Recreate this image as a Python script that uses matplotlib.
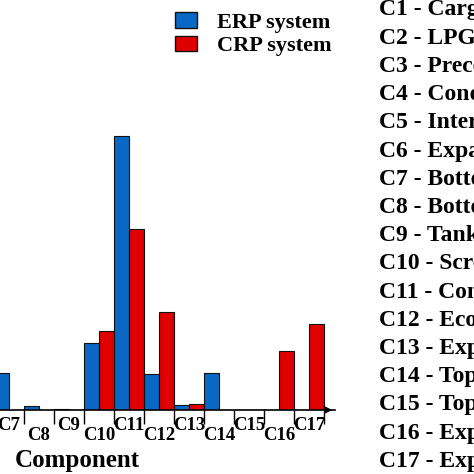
import matplotlib
matplotlib.use("Agg")
import matplotlib.pyplot as plt
import matplotlib.transforms as mtrans
from matplotlib.patches import Patch
import numpy as np

categories = ["C7", "C8", "C9", "C10", "C11", "C12", "C13", "C14", "C15", "C16", "C17"]
erp = [37, 4, 1, 67, 274, 36, 5, 37, 0, 0, 0]
crp = [0, 0, 0, 79, 181, 98, 6, 0, 0, 59, 86]
descriptions = ["C1 - Cargo tank", "C2 - LPG pump", "C3 - Precooler", "C4 - Condenser",
                "C5 - Intermediate cooler", "C6 - Expansion valve", "C7 - Bottom heat exchanger",
                "C8 - Bottom separator", "C9 - Tank", "C10 - Screw compressor",
                "C11 - Condenser", "C12 - Economizer", "C13 - Expansion valve",
                "C14 - Top heat exchanger", "C15 - Top separator", "C16 - Expansion valve",
                "C17 - Expansion valve"]

plt.rcParams['font.family'] = ['Liberation Serif', 'DejaVu Serif']
plt.rcParams['font.weight'] = 'bold'
BLUE = '#0868C4'
RED = '#E00000'

fig = plt.figure(figsize=(4.74, 4.74), dpi=100)
W = 474.0
ax = fig.add_axes([0, 64 / W, 335 / W, 310 / W])
n = len(categories)
x = np.arange(n)
ax.bar(x + 0.25, erp, width=0.5, color=BLUE, edgecolor='#111111', linewidth=0.8)
ax.bar(x + 0.75, crp, width=0.5, color=RED, edgecolor='#111111', linewidth=0.8)
ax.set_xlim(0.2, 11.37)
ax.set_ylim(0, 310)
for s in ['top', 'right', 'left']:
    ax.spines[s].set_visible(False)
ax.spines['bottom'].set_linewidth(1.2)
ax.set_yticks([])
ax.set_xticks(np.arange(1, n + 1))
ax.tick_params(axis='x', direction='out', length=10, width=1, labelbottom=False)
ax.annotate('', xy=(1.0, 0), xycoords='axes fraction', xytext=(0.96, 0),
            arrowprops=dict(arrowstyle='-|>', color='black', lw=1.2, mutation_scale=10))
tr = mtrans.blended_transform_factory(ax.transData, ax.transAxes)
for i, c in enumerate(categories):
    up = (i % 2 == 0)
    off = -16 / 310 if up else -25 / 310
    ax.text(i + 0.5, off, c, transform=tr, ha='center', va='center',
            fontsize=13.5, fontweight='bold')
fig.text(15 / W, 1 - 461 / W, 'Component', fontsize=18, fontweight='bold',
         ha='left', va='center')

handles = [Patch(facecolor=BLUE, edgecolor='#111111', label='ERP system'),
           Patch(facecolor=RED, edgecolor='#111111', label='CRP system')]
fig.legend(handles=handles, loc='upper left', bbox_to_anchor=(175 / W, 1 - 12 / W),
           frameon=False, fontsize=16, handlelength=1.0, handleheight=0.7,
           handletextpad=0.9, labelspacing=0.15, borderpad=0, borderaxespad=0)

for k, d in enumerate(descriptions):
    fig.text(379 / W, 1 - (10 + k * 28.2) / W, d, fontsize=17, fontweight='bold',
             ha='left', va='center')

fig.savefig('out.png', dpi=100)
